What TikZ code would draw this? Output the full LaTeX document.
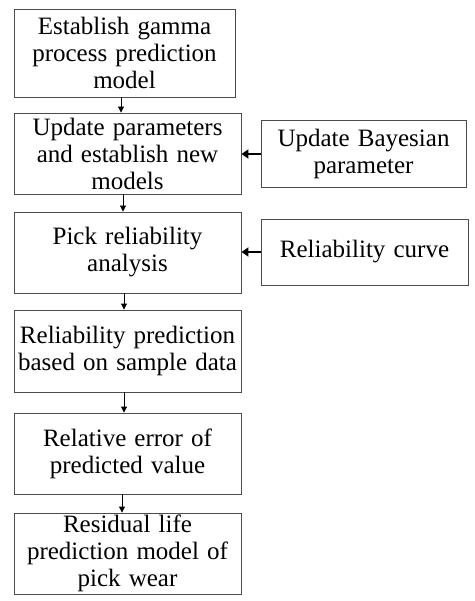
\documentclass[tikz,border=0pt]{standalone}
\usepackage{fontspec}
\setmainfont{Liberation Serif}[WordSpace=1.3]
\usetikzlibrary{arrows.meta}
\begin{document}
\begin{tikzpicture}[x=1pt,y=1pt,
  box/.style={draw=black!70, line width=0.9pt, align=center, inner sep=0pt,
    font=\fontsize{25}{27}\selectfont, text=black},
  varrow/.style={draw=black, line width=0.9pt, -{Triangle[length=6pt,width=6pt]}},
  harrow/.style={draw=black, line width=2.2pt, -{Triangle[length=7pt,width=9pt]}}]
\useasboundingbox (0,0) rectangle (474,-601);
\node[box, minimum width=221pt, minimum height=88pt] (b1) at (124.5,-53) {Establish gamma\\process prediction\\model};
\node[box, minimum width=227pt, minimum height=81pt] (b2) at (127.5,-153.5) {Update parameters\\and establish new\\models};
\node[box, minimum width=205pt, minimum height=67pt] (bay) at (363.5,-154) {Update Bayesian\\parameter};
\node[box, minimum width=227pt, minimum height=81pt] (b3) at (127.5,-252.5) {Pick reliability\\analysis};
\node[box, minimum width=207pt, minimum height=66pt] (cur) at (364.5,-252) {Reliability curve};
\node[box, minimum width=227pt, minimum height=82pt] (b4) at (127.5,-351) {Reliability prediction\\based on sample data};
\node[box, minimum width=227pt, minimum height=81pt] (b5) at (127.5,-453.5) {Relative error of\\predicted value};
\node[box, minimum width=227pt, minimum height=81pt] (b6) at (127.5,-553.5) {Residual life\\prediction model of\\pick wear};
\draw[varrow] ([xshift=-3.5pt]b1.south) -- ([xshift=-3.5pt]b1.south |- b2.north);
\draw[varrow] ([xshift=-4.5pt]b2.south) -- ([xshift=-4.5pt]b2.south |- b3.north);
\draw[varrow] ([xshift=-3.5pt]b3.south) -- ([xshift=-3.5pt]b3.south |- b4.north);
\draw[varrow] ([xshift=-3.5pt]b4.south) -- ([xshift=-3.5pt]b4.south |- b5.north);
\draw[varrow] ([xshift=-5.5pt]b5.south) -- ([xshift=-5.5pt]b5.south |- b6.north);
\draw[harrow] (bay.west) -- (bay.west -| b2.east);
\draw[harrow] (cur.west) -- (cur.west -| b3.east);
\end{tikzpicture}
\end{document}
